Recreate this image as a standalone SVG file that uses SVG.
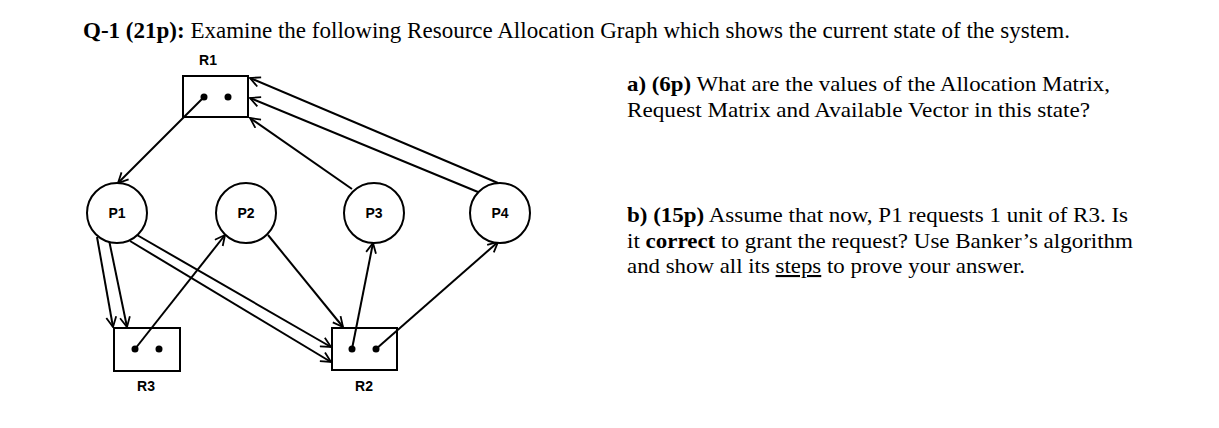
<svg xmlns="http://www.w3.org/2000/svg" width="1219" height="428" viewBox="0 0 1219 428">
<defs>
<marker id="arr" markerUnits="userSpaceOnUse" markerWidth="12" markerHeight="12" viewBox="0 0 12 12" refX="11" refY="6" orient="auto">
<path d="M1,1 L11,6 L1,11" fill="none" stroke="#000" stroke-width="1.8"/>
</marker>
<style>
.node{fill:#fff;stroke:#000;stroke-width:2}
.dot{fill:#000}
.lbl{font-family:"Liberation Sans",Arial,sans-serif;font-weight:bold;font-size:14px;fill:#000;text-anchor:middle}
.edge{stroke:#000;stroke-width:2;fill:none}
.arr{marker-end:url(#arr)}
.t{font-family:"Liberation Serif","Times New Roman",serif;font-size:21px;fill:#000}
.title{font-size:23.5px}
.b{font-weight:bold}
</style>
</defs>
<rect width="1219" height="428" fill="#fff"/>
<text class="t title" x="83" y="38" textLength="987" lengthAdjust="spacingAndGlyphs"><tspan class="b">Q-1 (21p):</tspan> Examine the following Resource Allocation Graph which shows the current state of the system.</text>
<g id="text-a">
<text class="t" x="627" y="91" textLength="483" lengthAdjust="spacingAndGlyphs"><tspan class="b">a) (6p)</tspan> What are the values of the Allocation Matrix,</text>
<text class="t" x="627" y="117" textLength="463" lengthAdjust="spacingAndGlyphs">Request Matrix and Available Vector in this state?</text>
</g>
<g id="text-b">
<text class="t" x="627" y="222" textLength="501" lengthAdjust="spacingAndGlyphs"><tspan class="b">b) (15p)</tspan> Assume that now, P1 requests 1 unit of R3. Is</text>
<text class="t" x="627" y="248" textLength="506" lengthAdjust="spacingAndGlyphs">it <tspan class="b">correct</tspan> to grant the request? Use Banker’s algorithm</text>
<text class="t" x="627" y="273" textLength="398" lengthAdjust="spacingAndGlyphs">and show all its <tspan text-decoration="underline">steps</tspan> to prove your answer.</text>
</g>
<g id="connectors">
<line class="edge arr" x1="204" y1="97" x2="118" y2="183"/>
<line class="edge arr" x1="352" y1="189" x2="250" y2="118"/>
<line class="edge arr" x1="478" y1="192" x2="250" y2="98"/>
<line class="edge arr" x1="498" y1="183" x2="250" y2="78"/>
<line class="edge arr" x1="97" y1="237" x2="113" y2="327"/>
<line class="edge arr" x1="109" y1="240" x2="127" y2="327"/>
<line class="edge arr" x1="137" y1="235" x2="331" y2="347"/>
<line class="edge arr" x1="130" y1="241" x2="331" y2="362"/>
<line class="edge arr" x1="135" y1="349" x2="225" y2="235"/>
<line class="edge arr" x1="268" y1="235" x2="343" y2="327"/>
<line class="edge arr" x1="352" y1="349" x2="373" y2="243"/>
<line class="edge arr" x1="376" y1="349" x2="498" y2="242"/>
</g>
<g id="R1">
<rect class="node" x="183" y="76" width="65" height="41" fill-opacity="0"/>
<circle class="dot" cx="204" cy="97" r="3.5"/>
<circle class="dot" cx="228" cy="97" r="3.5"/>
<text class="lbl" x="208" y="65">R1</text>
</g>
<g id="R3">
<rect class="node" x="114" y="328" width="66" height="43" fill-opacity="0"/>
<circle class="dot" cx="135" cy="349" r="3.5"/>
<circle class="dot" cx="159" cy="349" r="3.5"/>
<text class="lbl" x="146" y="391">R3</text>
</g>
<g id="R2">
<rect class="node" x="332" y="328" width="65" height="42" fill-opacity="0"/>
<circle class="dot" cx="352" cy="349" r="3.5"/>
<circle class="dot" cx="376" cy="349" r="3.5"/>
<text class="lbl" x="364" y="391">R2</text>
</g>
<g id="P1">
<circle class="node" cx="117" cy="213" r="30"/>
<text class="lbl" x="117" y="218">P1</text>
</g>
<g id="P2">
<circle class="node" cx="246" cy="213" r="30"/>
<text class="lbl" x="246" y="218">P2</text>
</g>
<g id="P3">
<circle class="node" cx="374" cy="213" r="30"/>
<text class="lbl" x="374" y="218">P3</text>
</g>
<g id="P4">
<circle class="node" cx="500" cy="213" r="30"/>
<text class="lbl" x="500" y="218">P4</text>
</g>
</svg>
